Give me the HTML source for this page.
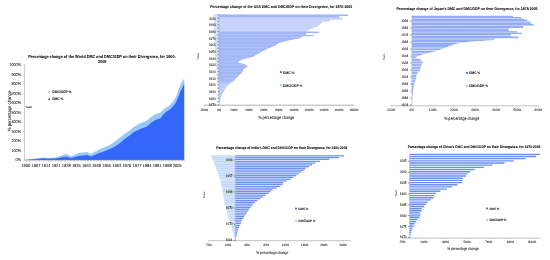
<!DOCTYPE html>
<html lang="en">
<head>
<meta charset="utf-8">
<title>Percentage change of DMC and DMC/GDP</title>
<style>
html,body{margin:0;padding:0;background:#fff;}
body{width:550px;height:260px;overflow:hidden;}
svg{display:block;font-family:'Liberation Sans', sans-serif;}
.shapes{filter:blur(0.35px);}
.labels{}
text{font-family:'Liberation Sans', sans-serif;}
</style>
</head>
<body>
<svg width="550" height="260" viewBox="0 0 550 260" text-rendering="geometricPrecision">
<rect x="0" y="0" width="550" height="260" fill="#ffffff"/>
<g class="shapes">
<g id="world">
<path d="M25.1,159.9 L25.1,159.9 L27.0,159.5 L31.0,159.0 L35.4,158.5 L39.5,158.0 L43.1,157.4 L45.5,157.8 L47.7,158.0 L51.5,157.7 L55.4,157.5 L58.5,156.6 L61.0,155.7 L63.5,154.8 L66.2,154.0 L68.5,154.9 L71.5,156.2 L74.0,155.0 L77.7,153.3 L80.0,152.8 L83.5,152.4 L86.9,152.0 L89.0,152.9 L90.8,153.9 L94.0,152.2 L97.5,150.4 L100.8,148.8 L104.5,147.3 L108.5,145.5 L112.5,143.2 L116.2,140.6 L120.0,137.6 L123.8,134.6 L127.0,132.2 L130.0,130.2 L133.1,127.6 L137.0,125.0 L140.8,122.9 L143.0,122.3 L144.6,121.9 L146.9,120.6 L149.0,118.8 L151.5,116.7 L154.0,114.9 L156.2,113.7 L158.5,113.2 L160.8,112.2 L162.2,110.8 L163.5,109.6 L166.3,107.3 L168.3,106.3 L170.2,104.8 L173.0,101.5 L174.5,99.4 L176.0,96.7 L177.4,93.0 L178.8,89.0 L180.2,85.6 L181.7,82.3 L183.0,80.2 L184.2,78.5 L184.2,159.9 Z" fill="#98c8f8"/>
<path d="M25.1,159.9 L25.1,159.9 L27.0,159.8 L31.0,159.4 L35.4,159.0 L39.5,158.7 L43.1,158.3 L45.5,158.6 L47.7,158.7 L51.5,158.5 L55.4,158.4 L58.5,157.9 L61.0,157.4 L63.5,157.0 L66.2,156.7 L68.5,157.2 L71.5,158.1 L74.0,157.3 L77.7,156.2 L80.0,155.8 L83.5,155.5 L86.9,155.1 L89.0,155.8 L90.8,156.6 L94.0,155.2 L97.5,153.77 L100.8,152.46 L104.5,151.17 L108.5,149.58 L112.5,147.79 L116.2,145.79 L120.0,143.0 L123.8,139.7 L127.0,137.3 L130.0,135.3 L133.1,132.6 L137.0,130.5 L140.8,128.8 L143.0,128.0 L144.6,127.5 L146.9,126.5 L149.0,124.7 L151.5,122.6 L154.0,120.9 L156.2,119.5 L158.5,118.9 L160.8,118.0 L162.2,115.9 L163.5,114.3 L166.3,111.7 L168.3,110.6 L170.2,109.2 L173.0,106.3 L174.5,104.6 L176.0,102.4 L177.4,99.3 L178.8,95.7 L180.2,92.1 L181.7,89.0 L183.0,86.3 L184.2,84.0 L184.2,159.9 Z" fill="#3267fa"/>
<path d="M24.6,64.4 V160.2 M24.3,160.2 H184.4" stroke="#9a9a9a" stroke-width="0.5" fill="none"/>
<path d="M25.1,160.75H184.4" stroke="#8a8a8a" stroke-width="0.8" stroke-dasharray="0.5 0.943" fill="none"/>
<path d="M23.6,159.90 H24.6 M23.6,150.40 H24.6 M23.6,140.90 H24.6 M23.6,131.40 H24.6 M23.6,121.90 H24.6 M23.6,112.40 H24.6 M23.6,102.90 H24.6 M23.6,93.40 H24.6 M23.6,83.90 H24.6 M23.6,74.40 H24.6 M23.6,64.90 H24.6 " stroke="#9a9a9a" stroke-width="0.4"/>
<rect x="48.35" y="91.15" width="1.7" height="1.7" fill="#8cc3f8"/>
<rect x="48.35" y="98.35" width="1.7" height="1.7" fill="#1f4ff5"/>
</g>
<g id="usa">
<path d="M219.0,14.22 L213.3,14.22 L214.2,40.00 L215.5,60.00 L216.5,71.00 L217.5,85.00 L218.5,98.00 L219,104.00 L219.0,104.93 Z" fill="#cfe1fa"/>
<clipPath id="clip-usa"><path d="M219.0,14.22 L348.1,14.22 L348.1,14.2 L348.1,16.0 L339.2,16.1 L339.6,17.5 L341.9,17.6 L341.9,19.5 L329.6,19.6 L329.6,21.5 L322.5,21.6 L321.5,23.4 L319.6,23.5 L319.6,25.0 L318,25.1 L317,27.2 L313.5,27.3 L313,28.7 L309.6,28.8 L309,30.2 L307.3,30.3 L307,31.3 L319.6,31.4 L319.6,33.0 L306.5,33.1 L306.5,34.9 L313,35.0 L315,36.5 L302.7,36.6 L300,38.4 L293,39.8 L286.2,41.2 L278.5,43.5 L275.4,45.8 L267.7,48.8 L261.5,51.9 L256.5,55 L253.5,56.8 L245.8,58.8 L239.6,60.8 L238.1,62.4 L243.5,63.5 L246.5,65 L248.1,66.5 L245.8,68.1 L243.5,69.6 L242.7,71.9 L240.4,74.2 L238.1,76.5 L235.8,78.8 L233.5,81.2 L229.6,83.5 L227.3,85.8 L225.8,88.1 L224.2,90.4 L222.7,92.7 L221.9,94.7 L220.4,98.8 L219.7,101.5 L219.3,103.4 L219.1,105.3 L219.0,104.93 Z"/></clipPath>
<g clip-path="url(#clip-usa)">
<path d="M219.0,14.22 L348.1,14.22 L348.1,14.2 L348.1,16.0 L339.2,16.1 L339.6,17.5 L341.9,17.6 L341.9,19.5 L329.6,19.6 L329.6,21.5 L322.5,21.6 L321.5,23.4 L319.6,23.5 L319.6,25.0 L318,25.1 L317,27.2 L313.5,27.3 L313,28.7 L309.6,28.8 L309,30.2 L307.3,30.3 L307,31.3 L319.6,31.4 L319.6,33.0 L306.5,33.1 L306.5,34.9 L313,35.0 L315,36.5 L302.7,36.6 L300,38.4 L293,39.8 L286.2,41.2 L278.5,43.5 L275.4,45.8 L267.7,48.8 L261.5,51.9 L256.5,55 L253.5,56.8 L245.8,58.8 L239.6,60.8 L238.1,62.4 L243.5,63.5 L246.5,65 L248.1,66.5 L245.8,68.1 L243.5,69.6 L242.7,71.9 L240.4,74.2 L238.1,76.5 L235.8,78.8 L233.5,81.2 L229.6,83.5 L227.3,85.8 L225.8,88.1 L224.2,90.4 L222.7,92.7 L221.9,94.7 L220.4,98.8 L219.7,101.5 L219.3,103.4 L219.1,105.3 L219.0,104.93 Z" fill="#a3b6f6"/>
<rect x="219.0" y="17.6" width="130.1" height="13.90" fill="#c5d1fa"/>
<rect x="219.0" y="82.5" width="130.1" height="23.50" fill="#bccaf9"/>
<path d="M219.0,16.90h130.1v0.5h-130.1zM219.0,20.30h130.1v0.5h-130.1zM219.0,23.70h130.1v0.5h-130.1zM219.0,27.10h130.1v0.5h-130.1zM219.0,30.50h130.1v0.5h-130.1zM219.0,33.90h130.1v0.5h-130.1zM219.0,37.30h130.1v0.5h-130.1zM219.0,40.70h130.1v0.5h-130.1zM219.0,44.10h130.1v0.5h-130.1zM219.0,47.50h130.1v0.5h-130.1zM219.0,50.90h130.1v0.5h-130.1zM219.0,54.30h130.1v0.5h-130.1zM219.0,57.70h130.1v0.5h-130.1zM219.0,61.10h130.1v0.5h-130.1zM219.0,64.50h130.1v0.5h-130.1zM219.0,67.90h130.1v0.5h-130.1zM219.0,71.30h130.1v0.5h-130.1zM219.0,74.70h130.1v0.5h-130.1zM219.0,78.10h130.1v0.5h-130.1zM219.0,81.50h130.1v0.5h-130.1zM219.0,84.90h130.1v0.5h-130.1zM219.0,88.30h130.1v0.5h-130.1zM219.0,91.70h130.1v0.5h-130.1zM219.0,95.10h130.1v0.5h-130.1zM219.0,98.50h130.1v0.5h-130.1zM219.0,101.90h130.1v0.5h-130.1z" fill="#ffffff" fill-opacity="0.28"/>
</g>
<path d="M219.0,14.22 V105.1" stroke="#8f98b8" stroke-width="0.4" fill="none"/>
<path d="M204.0,105.1 H354.2" stroke="#858585" stroke-width="0.5" fill="none"/>
<path d="M217.50,104.93H218.70 M217.50,101.60H218.70 M217.50,98.26H218.70 M217.50,94.93H218.70 M217.50,91.59H218.70 M217.50,88.26H218.70 M217.50,84.92H218.70 M217.50,81.59H218.70 M217.50,78.25H218.70 M217.50,74.92H218.70 M217.50,71.58H218.70 M217.50,68.25H218.70 M217.50,64.91H218.70 M217.50,61.58H218.70 M217.50,58.24H218.70 M217.50,54.91H218.70 M217.50,51.57H218.70 M217.50,48.24H218.70 M217.50,44.90H218.70 M217.50,41.57H218.70 M217.50,38.23H218.70 M217.50,34.90H218.70 M217.50,31.56H218.70 M217.50,28.23H218.70 M217.50,24.89H218.70 M217.50,21.56H218.70 M217.50,18.22H218.70 M217.50,14.89H218.70 " stroke="#333" stroke-width="0.55"/>
<path d="M204.0,105.55H354.2" stroke="#8a8a8a" stroke-width="0.7" stroke-dasharray="0.45 1.05" fill="none"/>
<path d="M204.0,105.1v0.9 M219.0,105.1v0.9 M234.0,105.1v0.9 M249.0,105.1v0.9 M264.0,105.1v0.9 M279.0,105.1v0.9 M294.0,105.1v0.9 M309.0,105.1v0.9 M324.0,105.1v0.9 M339.0,105.1v0.9 M354.0,105.1v0.9 " stroke="#9a9a9a" stroke-width="0.4"/>
<rect x="279.95" y="71.25" width="1.7" height="1.7" fill="#1f4ff5"/>
<rect x="279.95" y="84.35" width="1.7" height="1.7" fill="#8cc3f8"/>
</g>
<g id="japan">
<clipPath id="clip-japan"><path d="M411.8,15.60 L513,15.60 L513,14.9 L513,16.9 L521,17.0 L522,18.2 L524,18.3 L524,19.2 L527,19.3 L527,20.4 L529.5,20.5 L530,22.0 L530.8,22.1 L530.8,23.6 L533.8,23.7 L533.8,25.9 L523,26.0 L523,27.9 L510,28.0 L508.5,29.5 L509.5,30.9 L517,31.0 L517,32.5 L522.3,32.6 L522.3,34.0 L510.8,34.1 L510.8,36.2 L517,36.3 L518.5,37.3 L520,38.4 L495,38.5 L494,40.4 L489,40.5 L470,41.8 L460,43.1 L452.3,45 L449,46.5 L441.5,49.3 L433.1,51.9 L423.1,54.5 L415.4,57.3 L420.8,59.6 L423.1,62.2 L421.5,65 L420.8,67.8 L420,70.4 L417.7,73.2 L416.6,75.8 L416.2,78.5 L415.4,81.2 L414.6,83.5 L413.5,90 L412.7,95 L412.0,104 L411.8,104.95 Z"/></clipPath>
<g clip-path="url(#clip-japan)">
<path d="M411.8,15.60 L513,15.60 L513,14.9 L513,16.9 L521,17.0 L522,18.2 L524,18.3 L524,19.2 L527,19.3 L527,20.4 L529.5,20.5 L530,22.0 L530.8,22.1 L530.8,23.6 L533.8,23.7 L533.8,25.9 L523,26.0 L523,27.9 L510,28.0 L508.5,29.5 L509.5,30.9 L517,31.0 L517,32.5 L522.3,32.6 L522.3,34.0 L510.8,34.1 L510.8,36.2 L517,36.3 L518.5,37.3 L520,38.4 L495,38.5 L494,40.4 L489,40.5 L470,41.8 L460,43.1 L452.3,45 L449,46.5 L441.5,49.3 L433.1,51.9 L423.1,54.5 L415.4,57.3 L420.8,59.6 L423.1,62.2 L421.5,65 L420.8,67.8 L420,70.4 L417.7,73.2 L416.6,75.8 L416.2,78.5 L415.4,81.2 L414.6,83.5 L413.5,90 L412.7,95 L412.0,104 L411.8,104.95 Z" fill="#94abf5"/>
<path d="M411.8,18.20h123.0v0.8h-123.0zM411.8,21.60h123.0v0.8h-123.0zM411.8,25.00h123.0v0.8h-123.0zM411.8,28.40h123.0v0.8h-123.0zM411.8,31.80h123.0v0.8h-123.0zM411.8,35.20h123.0v0.8h-123.0zM411.8,38.60h123.0v0.8h-123.0zM411.8,42.00h123.0v0.8h-123.0zM411.8,47.40h123.0v1.0h-123.0zM411.8,50.06h123.0v1.0h-123.0zM411.8,52.72h123.0v1.0h-123.0zM411.8,55.38h123.0v1.0h-123.0zM411.8,58.04h123.0v1.0h-123.0zM411.8,60.70h123.0v1.0h-123.0zM411.8,63.36h123.0v1.0h-123.0zM411.8,66.02h123.0v1.0h-123.0zM411.8,68.68h123.0v1.0h-123.0zM411.8,71.34h123.0v1.0h-123.0zM411.8,74.00h123.0v1.0h-123.0zM411.8,76.66h123.0v1.0h-123.0zM411.8,79.32h123.0v1.0h-123.0zM411.8,81.98h123.0v1.0h-123.0zM411.8,84.64h123.0v1.0h-123.0zM411.8,87.30h123.0v1.0h-123.0zM411.8,89.96h123.0v1.0h-123.0zM411.8,92.62h123.0v1.0h-123.0zM411.8,95.28h123.0v1.0h-123.0zM411.8,97.94h123.0v1.0h-123.0zM411.8,100.60h123.0v1.0h-123.0zM411.8,103.26h123.0v1.0h-123.0z" fill="#ffffff" fill-opacity="0.62"/>
</g>
<path d="M411.8,15.60 V105.8" stroke="#8f98b8" stroke-width="0.4" fill="none"/>
<path d="M390.7,105.8 H538.6" stroke="#858585" stroke-width="0.5" fill="none"/>
<path d="M410.30,104.95H411.60 M410.30,97.97H411.60 M410.30,90.99H411.60 M410.30,84.01H411.60 M410.30,77.03H411.60 M410.30,70.05H411.60 M410.30,63.07H411.60 M410.30,56.09H411.60 M410.30,49.11H411.60 M410.30,42.13H411.60 M410.30,35.15H411.60 M410.30,28.17H411.60 M410.30,21.19H411.60 " stroke="#333" stroke-width="0.55"/>
<path d="M390.7,105.8v0.9 M411.8,105.8v0.9 M432.9,105.8v0.9 M454.0,105.8v0.9 M475.1,105.8v0.9 M496.2,105.8v0.9 M517.3,105.8v0.9 M538.4,105.8v0.9 " stroke="#9a9a9a" stroke-width="0.4"/>
<rect x="466.05" y="71.95" width="1.7" height="1.7" fill="#1f4ff5"/>
<rect x="466.05" y="85.05" width="1.7" height="1.7" fill="#8cc3f8"/>
</g>
<g id="india">
<path d="M235.09,239.04h0.31v1.52h-0.31zM234.75,237.26h0.65v1.52h-0.65zM233.88,235.47h1.52v1.52h-1.52zM233.76,233.69h1.64v1.52h-1.64zM233.04,231.90h2.36v1.52h-2.36zM232.61,230.12h2.79v1.52h-2.79zM232.07,228.33h3.33v1.52h-3.33zM231.64,226.55h3.76v1.52h-3.76zM231.51,224.76h3.89v1.52h-3.89zM230.66,222.98h4.74v1.52h-4.74zM230.19,221.19h5.21v1.52h-5.21zM229.43,219.41h5.97v1.52h-5.97zM229.06,217.62h6.34v1.52h-6.34zM228.33,215.84h7.07v1.52h-7.07zM227.62,214.05h7.78v1.52h-7.78zM227.20,212.27h8.20v1.52h-8.20zM226.75,210.48h8.65v1.52h-8.65zM226.47,208.70h8.93v1.52h-8.93zM226.19,206.91h9.21v1.52h-9.21zM225.84,205.13h9.56v1.52h-9.56zM225.31,203.34h10.09v1.52h-10.09zM224.63,201.56h10.77v1.52h-10.77zM224.43,199.77h10.97v1.52h-10.97zM223.95,197.99h11.45v1.52h-11.45zM223.27,196.20h12.13v1.52h-12.13zM223.34,194.42h12.06v1.52h-12.06zM222.93,192.63h12.47v1.52h-12.47zM222.34,190.85h13.06v1.52h-13.06zM222.23,189.06h13.17v1.52h-13.17zM222.09,187.28h13.31v1.52h-13.31zM221.66,185.49h13.74v1.52h-13.74zM221.37,183.71h14.03v1.52h-14.03zM220.80,181.92h14.60v1.52h-14.60zM220.41,180.14h14.99v1.52h-14.99zM219.78,178.35h15.62v1.52h-15.62zM219.29,176.57h16.11v1.52h-16.11zM218.60,174.78h16.80v1.52h-16.80zM217.82,173.00h17.58v1.52h-17.58zM217.38,171.21h18.02v1.52h-18.02zM216.65,169.43h18.75v1.52h-18.75zM216.14,167.64h19.26v1.52h-19.26zM215.57,165.86h19.83v1.52h-19.83zM214.53,164.07h20.87v1.52h-20.87zM214.14,162.29h21.26v1.52h-21.26zM213.44,160.50h21.96v1.52h-21.96zM212.60,158.72h22.80v1.52h-22.80zM211.85,156.93h23.55v1.52h-23.55zM211.26,155.15h24.14v1.52h-24.14z" fill="#c2daf9"/>
<path d="M235.40,239.18h0.57v1.25h-0.57zM235.40,237.39h0.27v1.25h-0.27zM235.40,235.61h1.14v1.25h-1.14zM235.40,233.82h1.52v1.25h-1.52zM235.40,232.04h1.75v1.25h-1.75zM235.40,230.25h2.43v1.25h-2.43zM235.40,228.47h2.80v1.25h-2.80zM235.40,226.68h3.63v1.25h-3.63zM235.40,224.90h4.26v1.25h-4.26zM235.40,223.11h5.44v1.25h-5.44zM235.40,221.33h5.88v1.25h-5.88zM235.40,219.54h6.82v1.25h-6.82zM235.40,217.76h7.81v1.25h-7.81zM235.40,215.97h8.83v1.25h-8.83zM235.40,214.19h10.12v1.25h-10.12zM235.40,212.40h11.53v1.25h-11.53zM235.40,210.62h12.51v1.25h-12.51zM235.40,208.83h13.84v1.25h-13.84zM235.40,207.05h15.19v1.25h-15.19zM235.40,205.26h16.42v1.25h-16.42zM235.40,203.48h17.77v1.25h-17.77zM235.40,201.69h19.58v1.25h-19.58zM235.40,199.91h22.15v1.25h-22.15zM235.40,198.12h25.14v1.25h-25.14zM235.40,196.34h27.97v1.25h-27.97zM235.40,194.55h30.52v1.25h-30.52zM235.40,192.77h33.30v1.25h-33.30zM235.40,190.98h35.13v1.25h-35.13zM235.40,189.20h37.23v1.25h-37.23zM235.40,187.41h41.20v1.25h-41.20zM235.40,185.63h45.05v1.25h-45.05zM235.40,183.84h46.97v1.25h-46.97zM235.40,182.06h48.20v1.25h-48.20zM235.40,180.27h51.43v1.25h-51.43zM235.40,178.49h55.61v1.25h-55.61zM235.40,176.70h58.01v1.25h-58.01zM235.40,174.92h61.03v1.25h-61.03zM235.40,173.13h63.56v1.25h-63.56zM235.40,171.35h66.18v1.25h-66.18zM235.40,169.56h68.94v1.25h-68.94zM235.40,167.78h70.30v1.25h-70.30zM235.40,165.99h73.63v1.25h-73.63zM235.40,164.21h76.69v1.25h-76.69zM235.40,162.42h79.93v1.25h-79.93zM235.40,160.64h84.70v1.25h-84.70zM235.40,158.85h93.97v1.25h-93.97zM235.40,157.07h103.54v1.25h-103.54zM235.40,155.28h108.60v1.25h-108.60z" fill="#6f90f3"/>
<path d="M235.4,155.01 V240.7" stroke="#8f98b8" stroke-width="0.4" fill="none"/>
<path d="M208.5,240.7 H350.6" stroke="#858585" stroke-width="0.5" fill="none"/>
<path d="M233.90,240.30H235.20 M233.90,224.24H235.20 M233.90,208.17H235.20 M233.90,192.11H235.20 M233.90,176.04H235.20 M233.90,159.98H235.20 " stroke="#333" stroke-width="0.55"/>
<path d="M208.45,240.7v0.9 M227.7,240.7v0.9 M246.95,240.7v0.9 M266.2,240.7v0.9 M285.45,240.7v0.9 M304.7,240.7v0.9 M323.95,240.7v0.9 M343.2,240.7v0.9 " stroke="#9a9a9a" stroke-width="0.4"/>
<rect x="295.15" y="207.65" width="1.7" height="1.7" fill="#1f4ff5"/>
<rect x="295.15" y="219.95" width="1.7" height="1.7" fill="#8cc3f8"/>
</g>
<g id="china">
<path d="M409.42,235.28h0.18v0.87h-0.18zM409.60,230.94h2.02v0.87h-2.02zM409.60,228.77h3.24v0.87h-3.24zM409.60,226.60h5.20v0.87h-5.20zM409.60,224.43h7.13v0.87h-7.13zM409.60,222.26h9.13v0.87h-9.13zM409.60,220.09h10.62v0.87h-10.62zM409.60,217.92h11.94v0.87h-11.94zM409.60,215.75h12.96v0.87h-12.96zM409.60,213.58h12.96v0.87h-12.96zM409.60,211.41h13.83v0.87h-13.83zM409.60,209.24h14.58v0.87h-14.58zM409.60,207.07h15.25v0.87h-15.25zM409.60,204.90h5.10v0.87h-5.10zM409.42,202.73h0.18v0.87h-0.18zM409.60,200.56h0.23v0.87h-0.23zM409.60,198.39h0.16v0.87h-0.16zM409.60,196.22h0.19v0.87h-0.19zM409.35,189.71h0.25v0.87h-0.25zM409.42,185.37h0.18v0.87h-0.18zM409.35,181.03h0.25v0.87h-0.25zM409.60,178.86h0.17v0.87h-0.17zM409.60,176.69h0.21v0.87h-0.21zM409.60,174.52h0.20v0.87h-0.20zM409.60,170.18h0.25v0.87h-0.25zM409.40,163.67h0.20v0.87h-0.20z" fill="#c9defa"/>
<path d="M409.60,236.13h0.79v1.35h-0.79zM409.60,233.96h1.21v1.35h-1.21zM409.60,231.79h1.74v1.35h-1.74zM409.60,229.62h2.15v1.35h-2.15zM409.60,227.45h2.63v1.35h-2.63zM409.60,225.28h3.87v1.35h-3.87zM409.60,223.11h4.88v1.35h-4.88zM409.60,220.94h6.32v1.35h-6.32zM409.60,218.77h7.86v1.35h-7.86zM409.60,216.60h9.96v1.35h-9.96zM409.60,214.43h10.80v1.35h-10.80zM409.60,212.26h10.21v1.35h-10.21zM409.60,210.09h11.89v1.35h-11.89zM409.60,207.92h12.21v1.35h-12.21zM409.60,205.75h14.39v1.35h-14.39zM409.60,203.58h16.25v1.35h-16.25zM409.60,201.41h18.18v1.35h-18.18zM409.60,199.24h21.39v1.35h-21.39zM409.60,197.07h23.92v1.35h-23.92zM409.60,194.90h24.86v1.35h-24.86zM409.60,192.73h26.43v1.35h-26.43zM409.60,190.56h30.75v1.35h-30.75zM409.60,188.39h37.24v1.35h-37.24zM409.60,186.22h42.43v1.35h-42.43zM409.60,184.05h47.81v1.35h-47.81zM409.60,181.88h52.57v1.35h-52.57zM409.60,179.71h52.88v1.35h-52.88zM409.60,177.54h53.31v1.35h-53.31zM409.60,175.37h56.41v1.35h-56.41zM409.60,173.20h57.91v1.35h-57.91zM409.60,171.03h60.71v1.35h-60.71zM409.60,168.86h65.07v1.35h-65.07zM409.60,166.69h74.27v1.35h-74.27zM409.60,164.52h82.94v1.35h-82.94zM409.60,162.35h95.02v1.35h-95.02zM409.60,160.18h104.19v1.35h-104.19zM409.60,158.01h115.95v1.35h-115.95zM409.60,155.84h126.37v1.35h-126.37zM409.60,153.67h130.52v1.35h-130.52z" fill="#6a8ef4"/>
<path d="M409.6,153.26 V238.1" stroke="#8f98b8" stroke-width="0.4" fill="none"/>
<path d="M402.3,238.1 H540.3" stroke="#858585" stroke-width="0.5" fill="none"/>
<path d="M408.10,237.30H409.40 M408.10,226.45H409.40 M408.10,215.60H409.40 M408.10,204.75H409.40 M408.10,193.90H409.40 M408.10,183.05H409.40 M408.10,172.20H409.40 M408.10,161.35H409.40 " stroke="#333" stroke-width="0.55"/>
<path d="M402.34,238.1v0.9 M423.94,238.1v0.9 M445.54,238.1v0.9 M467.14,238.1v0.9 M488.74,238.1v0.9 M510.34,238.1v0.9 M531.94,238.1v0.9 " stroke="#9a9a9a" stroke-width="0.4"/>
<rect x="486.25" y="207.55" width="1.7" height="1.7" fill="#1f4ff5"/>
<rect x="486.25" y="219.15" width="1.7" height="1.7" fill="#8cc3f8"/>
</g>
</g>
<g class="labels">
<text x="21.0" y="161.25" font-size="4.2" text-anchor="end" font-weight="normal" fill="#222" stroke="#222" stroke-width="0.07" textLength="5.42" lengthAdjust="spacingAndGlyphs">0%</text>
<text x="21.0" y="151.75" font-size="4.2" text-anchor="end" font-weight="normal" fill="#222" stroke="#222" stroke-width="0.07" textLength="9.59" lengthAdjust="spacingAndGlyphs">100%</text>
<text x="21.0" y="142.25" font-size="4.2" text-anchor="end" font-weight="normal" fill="#222" stroke="#222" stroke-width="0.07" textLength="9.59" lengthAdjust="spacingAndGlyphs">200%</text>
<text x="21.0" y="132.75" font-size="4.2" text-anchor="end" font-weight="normal" fill="#222" stroke="#222" stroke-width="0.07" textLength="9.59" lengthAdjust="spacingAndGlyphs">300%</text>
<text x="21.0" y="123.25" font-size="4.2" text-anchor="end" font-weight="normal" fill="#222" stroke="#222" stroke-width="0.07" textLength="9.59" lengthAdjust="spacingAndGlyphs">400%</text>
<text x="21.0" y="113.75" font-size="4.2" text-anchor="end" font-weight="normal" fill="#222" stroke="#222" stroke-width="0.07" textLength="9.59" lengthAdjust="spacingAndGlyphs">500%</text>
<text x="21.0" y="104.25" font-size="4.2" text-anchor="end" font-weight="normal" fill="#222" stroke="#222" stroke-width="0.07" textLength="9.59" lengthAdjust="spacingAndGlyphs">600%</text>
<text x="21.0" y="94.75" font-size="4.2" text-anchor="end" font-weight="normal" fill="#222" stroke="#222" stroke-width="0.07" textLength="9.59" lengthAdjust="spacingAndGlyphs">700%</text>
<text x="21.0" y="85.25" font-size="4.2" text-anchor="end" font-weight="normal" fill="#222" stroke="#222" stroke-width="0.07" textLength="9.59" lengthAdjust="spacingAndGlyphs">800%</text>
<text x="21.0" y="75.75" font-size="4.2" text-anchor="end" font-weight="normal" fill="#222" stroke="#222" stroke-width="0.07" textLength="9.59" lengthAdjust="spacingAndGlyphs">900%</text>
<text x="21.0" y="66.25" font-size="4.2" text-anchor="end" font-weight="normal" fill="#222" stroke="#222" stroke-width="0.07" textLength="11.68" lengthAdjust="spacingAndGlyphs">1000%</text>
<text x="25.82" y="166.9" font-size="4.48" text-anchor="middle" font-weight="normal" fill="#222" stroke="#222" stroke-width="0.07" textLength="8.9" lengthAdjust="spacingAndGlyphs">1900</text>
<text x="35.92" y="166.9" font-size="4.48" text-anchor="middle" font-weight="normal" fill="#222" stroke="#222" stroke-width="0.07" textLength="8.9" lengthAdjust="spacingAndGlyphs">1907</text>
<text x="46.02" y="166.9" font-size="4.48" text-anchor="middle" font-weight="normal" fill="#222" stroke="#222" stroke-width="0.07" textLength="8.9" lengthAdjust="spacingAndGlyphs">1914</text>
<text x="56.12" y="166.9" font-size="4.48" text-anchor="middle" font-weight="normal" fill="#222" stroke="#222" stroke-width="0.07" textLength="8.9" lengthAdjust="spacingAndGlyphs">1921</text>
<text x="66.23" y="166.9" font-size="4.48" text-anchor="middle" font-weight="normal" fill="#222" stroke="#222" stroke-width="0.07" textLength="8.9" lengthAdjust="spacingAndGlyphs">1928</text>
<text x="76.33" y="166.9" font-size="4.48" text-anchor="middle" font-weight="normal" fill="#222" stroke="#222" stroke-width="0.07" textLength="8.9" lengthAdjust="spacingAndGlyphs">1935</text>
<text x="86.43" y="166.9" font-size="4.48" text-anchor="middle" font-weight="normal" fill="#222" stroke="#222" stroke-width="0.07" textLength="8.9" lengthAdjust="spacingAndGlyphs">1942</text>
<text x="96.53" y="166.9" font-size="4.48" text-anchor="middle" font-weight="normal" fill="#222" stroke="#222" stroke-width="0.07" textLength="8.9" lengthAdjust="spacingAndGlyphs">1949</text>
<text x="106.63" y="166.9" font-size="4.48" text-anchor="middle" font-weight="normal" fill="#222" stroke="#222" stroke-width="0.07" textLength="8.9" lengthAdjust="spacingAndGlyphs">1956</text>
<text x="116.73" y="166.9" font-size="4.48" text-anchor="middle" font-weight="normal" fill="#222" stroke="#222" stroke-width="0.07" textLength="8.9" lengthAdjust="spacingAndGlyphs">1963</text>
<text x="126.83" y="166.9" font-size="4.48" text-anchor="middle" font-weight="normal" fill="#222" stroke="#222" stroke-width="0.07" textLength="8.9" lengthAdjust="spacingAndGlyphs">1970</text>
<text x="136.93" y="166.9" font-size="4.48" text-anchor="middle" font-weight="normal" fill="#222" stroke="#222" stroke-width="0.07" textLength="8.9" lengthAdjust="spacingAndGlyphs">1977</text>
<text x="147.03" y="166.9" font-size="4.48" text-anchor="middle" font-weight="normal" fill="#222" stroke="#222" stroke-width="0.07" textLength="8.9" lengthAdjust="spacingAndGlyphs">1984</text>
<text x="157.13" y="166.9" font-size="4.48" text-anchor="middle" font-weight="normal" fill="#222" stroke="#222" stroke-width="0.07" textLength="8.9" lengthAdjust="spacingAndGlyphs">1991</text>
<text x="167.24" y="166.9" font-size="4.48" text-anchor="middle" font-weight="normal" fill="#222" stroke="#222" stroke-width="0.07" textLength="8.9" lengthAdjust="spacingAndGlyphs">1998</text>
<text x="177.34" y="166.9" font-size="4.48" text-anchor="middle" font-weight="normal" fill="#222" stroke="#222" stroke-width="0.07" textLength="8.9" lengthAdjust="spacingAndGlyphs">2005</text>
<text x="102.0" y="58.2" font-size="4.21" text-anchor="middle" font-weight="bold" fill="#000" stroke="#000" stroke-width="0.04" textLength="147.5" lengthAdjust="spacingAndGlyphs">Percentage change of the World DMC and DMC/GDP on their Divergence, for 1900-</text>
<text x="102.2" y="63.1" font-size="4.21" text-anchor="middle" font-weight="bold" fill="#000" stroke="#000" stroke-width="0.04" textLength="8.36" lengthAdjust="spacingAndGlyphs">2009</text>
<text x="11.4" y="111.0" font-size="4.65" text-anchor="middle" font-weight="normal" fill="#111" stroke="#111" stroke-width="0.07" transform="rotate(-90 11.4 111.0)" textLength="40.38" lengthAdjust="spacingAndGlyphs">% percentage change</text>
<text x="25.5" y="108.3" font-size="2.8" text-anchor="start" font-weight="normal" fill="#111" stroke="#111" stroke-width="0.07" textLength="6.3" lengthAdjust="spacingAndGlyphs">Years</text>
<text x="52.3" y="93.2" font-size="3.66" text-anchor="start" font-weight="bold" fill="#111" stroke="#111" stroke-width="0.06" textLength="19.2" lengthAdjust="spacingAndGlyphs">DMC/GDP %</text>
<text x="52.3" y="100.4" font-size="3.58" text-anchor="start" font-weight="bold" fill="#111" stroke="#111" stroke-width="0.06" textLength="11.02" lengthAdjust="spacingAndGlyphs">DMC %</text>
<text x="215.8" y="106.32" font-size="3.47" text-anchor="end" font-weight="normal" fill="#222" stroke="#222" stroke-width="0.07" textLength="6.9" lengthAdjust="spacingAndGlyphs">1870</text>
<text x="215.8" y="99.65" font-size="3.47" text-anchor="end" font-weight="normal" fill="#222" stroke="#222" stroke-width="0.07" textLength="6.9" lengthAdjust="spacingAndGlyphs">1880</text>
<text x="215.8" y="92.98" font-size="3.47" text-anchor="end" font-weight="normal" fill="#222" stroke="#222" stroke-width="0.07" textLength="6.9" lengthAdjust="spacingAndGlyphs">1890</text>
<text x="215.8" y="86.31" font-size="3.47" text-anchor="end" font-weight="normal" fill="#222" stroke="#222" stroke-width="0.07" textLength="6.9" lengthAdjust="spacingAndGlyphs">1900</text>
<text x="215.8" y="79.64" font-size="3.47" text-anchor="end" font-weight="normal" fill="#222" stroke="#222" stroke-width="0.07" textLength="6.9" lengthAdjust="spacingAndGlyphs">1910</text>
<text x="215.8" y="72.97" font-size="3.47" text-anchor="end" font-weight="normal" fill="#222" stroke="#222" stroke-width="0.07" textLength="6.9" lengthAdjust="spacingAndGlyphs">1920</text>
<text x="215.8" y="66.3" font-size="3.47" text-anchor="end" font-weight="normal" fill="#222" stroke="#222" stroke-width="0.07" textLength="6.9" lengthAdjust="spacingAndGlyphs">1930</text>
<text x="215.8" y="59.63" font-size="3.47" text-anchor="end" font-weight="normal" fill="#222" stroke="#222" stroke-width="0.07" textLength="6.9" lengthAdjust="spacingAndGlyphs">1940</text>
<text x="215.8" y="52.96" font-size="3.47" text-anchor="end" font-weight="normal" fill="#222" stroke="#222" stroke-width="0.07" textLength="6.9" lengthAdjust="spacingAndGlyphs">1950</text>
<text x="215.8" y="46.29" font-size="3.47" text-anchor="end" font-weight="normal" fill="#222" stroke="#222" stroke-width="0.07" textLength="6.9" lengthAdjust="spacingAndGlyphs">1960</text>
<text x="215.8" y="39.62" font-size="3.47" text-anchor="end" font-weight="normal" fill="#222" stroke="#222" stroke-width="0.07" textLength="6.9" lengthAdjust="spacingAndGlyphs">1970</text>
<text x="215.8" y="32.95" font-size="3.47" text-anchor="end" font-weight="normal" fill="#222" stroke="#222" stroke-width="0.07" textLength="6.9" lengthAdjust="spacingAndGlyphs">1980</text>
<text x="215.8" y="26.28" font-size="3.47" text-anchor="end" font-weight="normal" fill="#222" stroke="#222" stroke-width="0.07" textLength="6.9" lengthAdjust="spacingAndGlyphs">1990</text>
<text x="215.8" y="19.61" font-size="3.47" text-anchor="end" font-weight="normal" fill="#222" stroke="#222" stroke-width="0.07" textLength="6.9" lengthAdjust="spacingAndGlyphs">2000</text>
<text x="204.0" y="111.3" font-size="3.25" text-anchor="middle" font-weight="normal" fill="#222" stroke="#222" stroke-width="0.07" textLength="8.38" lengthAdjust="spacingAndGlyphs">-200%</text>
<text x="219.0" y="111.3" font-size="3.25" text-anchor="middle" font-weight="normal" fill="#222" stroke="#222" stroke-width="0.07" textLength="4.19" lengthAdjust="spacingAndGlyphs">0%</text>
<text x="234.0" y="111.3" font-size="3.25" text-anchor="middle" font-weight="normal" fill="#222" stroke="#222" stroke-width="0.07" textLength="7.42" lengthAdjust="spacingAndGlyphs">200%</text>
<text x="249.0" y="111.3" font-size="3.25" text-anchor="middle" font-weight="normal" fill="#222" stroke="#222" stroke-width="0.07" textLength="7.42" lengthAdjust="spacingAndGlyphs">400%</text>
<text x="264.0" y="111.3" font-size="3.25" text-anchor="middle" font-weight="normal" fill="#222" stroke="#222" stroke-width="0.07" textLength="7.42" lengthAdjust="spacingAndGlyphs">600%</text>
<text x="279.0" y="111.3" font-size="3.25" text-anchor="middle" font-weight="normal" fill="#222" stroke="#222" stroke-width="0.07" textLength="7.42" lengthAdjust="spacingAndGlyphs">800%</text>
<text x="294.0" y="111.3" font-size="3.25" text-anchor="middle" font-weight="normal" fill="#222" stroke="#222" stroke-width="0.07" textLength="9.03" lengthAdjust="spacingAndGlyphs">1000%</text>
<text x="309.0" y="111.3" font-size="3.25" text-anchor="middle" font-weight="normal" fill="#222" stroke="#222" stroke-width="0.07" textLength="9.03" lengthAdjust="spacingAndGlyphs">1200%</text>
<text x="324.0" y="111.3" font-size="3.25" text-anchor="middle" font-weight="normal" fill="#222" stroke="#222" stroke-width="0.07" textLength="9.03" lengthAdjust="spacingAndGlyphs">1400%</text>
<text x="339.0" y="111.3" font-size="3.25" text-anchor="middle" font-weight="normal" fill="#222" stroke="#222" stroke-width="0.07" textLength="9.03" lengthAdjust="spacingAndGlyphs">1600%</text>
<text x="354.0" y="111.3" font-size="3.25" text-anchor="middle" font-weight="normal" fill="#222" stroke="#222" stroke-width="0.07" textLength="9.03" lengthAdjust="spacingAndGlyphs">1800%</text>
<text x="281.2" y="8.0" font-size="3.91" text-anchor="middle" font-weight="bold" fill="#000" stroke="#000" stroke-width="0.06" textLength="142" lengthAdjust="spacingAndGlyphs">Percentage change of the USA DMC and DMC/GDP on their Divergence, for 1870-2005</text>
<text x="276.2" y="119.0" font-size="4.62" text-anchor="middle" font-weight="normal" fill="#222" stroke="#222" stroke-width="0.07" textLength="36.0" lengthAdjust="spacingAndGlyphs">% percentage change</text>
<text x="199.3" y="56.4" font-size="2.8" text-anchor="middle" font-weight="normal" fill="#333" stroke="#333" stroke-width="0.03" transform="rotate(-90 199.3 56.4)" textLength="6.3" lengthAdjust="spacingAndGlyphs">Years</text>
<text x="283.1" y="73.54" font-size="3.7" text-anchor="start" font-weight="bold" fill="#111" stroke="#111" stroke-width="0.05" textLength="11.37" lengthAdjust="spacingAndGlyphs">DMC %</text>
<text x="283.1" y="86.64" font-size="3.7" text-anchor="start" font-weight="bold" fill="#111" stroke="#111" stroke-width="0.05" textLength="19.37" lengthAdjust="spacingAndGlyphs">DMC/GDP %</text>
<text x="408.1" y="105.68" font-size="3.36" text-anchor="end" font-weight="normal" fill="#222" stroke="#222" stroke-width="0.07" textLength="6.67" lengthAdjust="spacingAndGlyphs">1878</text>
<text x="408.1" y="98.7" font-size="3.36" text-anchor="end" font-weight="normal" fill="#222" stroke="#222" stroke-width="0.07" textLength="6.67" lengthAdjust="spacingAndGlyphs">1888</text>
<text x="408.1" y="91.72" font-size="3.36" text-anchor="end" font-weight="normal" fill="#222" stroke="#222" stroke-width="0.07" textLength="6.67" lengthAdjust="spacingAndGlyphs">1898</text>
<text x="408.1" y="84.74" font-size="3.36" text-anchor="end" font-weight="normal" fill="#222" stroke="#222" stroke-width="0.07" textLength="6.67" lengthAdjust="spacingAndGlyphs">1908</text>
<text x="408.1" y="77.76" font-size="3.36" text-anchor="end" font-weight="normal" fill="#222" stroke="#222" stroke-width="0.07" textLength="6.67" lengthAdjust="spacingAndGlyphs">1918</text>
<text x="408.1" y="70.78" font-size="3.36" text-anchor="end" font-weight="normal" fill="#222" stroke="#222" stroke-width="0.07" textLength="6.67" lengthAdjust="spacingAndGlyphs">1928</text>
<text x="408.1" y="63.8" font-size="3.36" text-anchor="end" font-weight="normal" fill="#222" stroke="#222" stroke-width="0.07" textLength="6.67" lengthAdjust="spacingAndGlyphs">1938</text>
<text x="408.1" y="56.82" font-size="3.36" text-anchor="end" font-weight="normal" fill="#222" stroke="#222" stroke-width="0.07" textLength="6.67" lengthAdjust="spacingAndGlyphs">1948</text>
<text x="408.1" y="49.84" font-size="3.36" text-anchor="end" font-weight="normal" fill="#222" stroke="#222" stroke-width="0.07" textLength="6.67" lengthAdjust="spacingAndGlyphs">1958</text>
<text x="408.1" y="42.86" font-size="3.36" text-anchor="end" font-weight="normal" fill="#222" stroke="#222" stroke-width="0.07" textLength="6.67" lengthAdjust="spacingAndGlyphs">1968</text>
<text x="408.1" y="35.88" font-size="3.36" text-anchor="end" font-weight="normal" fill="#222" stroke="#222" stroke-width="0.07" textLength="6.67" lengthAdjust="spacingAndGlyphs">1978</text>
<text x="408.1" y="28.9" font-size="3.36" text-anchor="end" font-weight="normal" fill="#222" stroke="#222" stroke-width="0.07" textLength="6.67" lengthAdjust="spacingAndGlyphs">1988</text>
<text x="408.1" y="21.92" font-size="3.36" text-anchor="end" font-weight="normal" fill="#222" stroke="#222" stroke-width="0.07" textLength="6.67" lengthAdjust="spacingAndGlyphs">1998</text>
<text x="390.7" y="111.0" font-size="3.42" text-anchor="middle" font-weight="normal" fill="#222" stroke="#222" stroke-width="0.07" textLength="8.82" lengthAdjust="spacingAndGlyphs">-100%</text>
<text x="411.8" y="111.0" font-size="3.42" text-anchor="middle" font-weight="normal" fill="#222" stroke="#222" stroke-width="0.07" textLength="4.41" lengthAdjust="spacingAndGlyphs">0%</text>
<text x="432.9" y="111.0" font-size="3.42" text-anchor="middle" font-weight="normal" fill="#222" stroke="#222" stroke-width="0.07" textLength="7.8" lengthAdjust="spacingAndGlyphs">100%</text>
<text x="454.0" y="111.0" font-size="3.42" text-anchor="middle" font-weight="normal" fill="#222" stroke="#222" stroke-width="0.07" textLength="7.8" lengthAdjust="spacingAndGlyphs">200%</text>
<text x="475.1" y="111.0" font-size="3.42" text-anchor="middle" font-weight="normal" fill="#222" stroke="#222" stroke-width="0.07" textLength="7.8" lengthAdjust="spacingAndGlyphs">300%</text>
<text x="496.2" y="111.0" font-size="3.42" text-anchor="middle" font-weight="normal" fill="#222" stroke="#222" stroke-width="0.07" textLength="7.8" lengthAdjust="spacingAndGlyphs">400%</text>
<text x="517.3" y="111.0" font-size="3.42" text-anchor="middle" font-weight="normal" fill="#222" stroke="#222" stroke-width="0.07" textLength="7.8" lengthAdjust="spacingAndGlyphs">500%</text>
<text x="538.4" y="111.0" font-size="3.42" text-anchor="middle" font-weight="normal" fill="#222" stroke="#222" stroke-width="0.07" textLength="7.8" lengthAdjust="spacingAndGlyphs">600%</text>
<text x="467.0" y="9.6" font-size="3.9" text-anchor="middle" font-weight="bold" fill="#000" stroke="#000" stroke-width="0.06" textLength="141" lengthAdjust="spacingAndGlyphs">Percentage change of Japan's DMC and DMC/GDP on their Divergence, for 1878-2005</text>
<text x="461.7" y="119.7" font-size="4.5" text-anchor="middle" font-weight="normal" fill="#222" stroke="#222" stroke-width="0.07" textLength="35.03" lengthAdjust="spacingAndGlyphs">% percentage change</text>
<text x="384.9" y="57.0" font-size="2.8" text-anchor="middle" font-weight="normal" fill="#333" stroke="#333" stroke-width="0.03" transform="rotate(-90 384.9 57.0)" textLength="6.3" lengthAdjust="spacingAndGlyphs">Years</text>
<text x="469.2" y="74.2" font-size="3.58" text-anchor="start" font-weight="bold" fill="#111" stroke="#111" stroke-width="0.05" textLength="11.02" lengthAdjust="spacingAndGlyphs">DMC %</text>
<text x="469.2" y="87.3" font-size="3.58" text-anchor="start" font-weight="bold" fill="#111" stroke="#111" stroke-width="0.05" textLength="18.79" lengthAdjust="spacingAndGlyphs">DMC/GDP %</text>
<text x="232.6" y="241.32" font-size="3.47" text-anchor="end" font-weight="normal" fill="#222" stroke="#222" stroke-width="0.07" textLength="6.9" lengthAdjust="spacingAndGlyphs">1961</text>
<text x="232.6" y="225.25" font-size="3.47" text-anchor="end" font-weight="normal" fill="#222" stroke="#222" stroke-width="0.07" textLength="6.9" lengthAdjust="spacingAndGlyphs">1970</text>
<text x="232.6" y="209.19" font-size="3.47" text-anchor="end" font-weight="normal" fill="#222" stroke="#222" stroke-width="0.07" textLength="6.9" lengthAdjust="spacingAndGlyphs">1979</text>
<text x="232.6" y="193.12" font-size="3.47" text-anchor="end" font-weight="normal" fill="#222" stroke="#222" stroke-width="0.07" textLength="6.9" lengthAdjust="spacingAndGlyphs">1988</text>
<text x="232.6" y="177.06" font-size="3.47" text-anchor="end" font-weight="normal" fill="#222" stroke="#222" stroke-width="0.07" textLength="6.9" lengthAdjust="spacingAndGlyphs">1997</text>
<text x="232.6" y="160.99" font-size="3.47" text-anchor="end" font-weight="normal" fill="#222" stroke="#222" stroke-width="0.07" textLength="6.9" lengthAdjust="spacingAndGlyphs">2006</text>
<text x="208.45" y="245.8" font-size="3.14" text-anchor="middle" font-weight="normal" fill="#222" stroke="#222" stroke-width="0.07" textLength="6.54" lengthAdjust="spacingAndGlyphs">-70%</text>
<text x="227.7" y="245.8" font-size="3.14" text-anchor="middle" font-weight="normal" fill="#222" stroke="#222" stroke-width="0.07" textLength="6.54" lengthAdjust="spacingAndGlyphs">-20%</text>
<text x="246.95" y="245.8" font-size="3.14" text-anchor="middle" font-weight="normal" fill="#222" stroke="#222" stroke-width="0.07" textLength="5.6" lengthAdjust="spacingAndGlyphs">30%</text>
<text x="266.2" y="245.8" font-size="3.14" text-anchor="middle" font-weight="normal" fill="#222" stroke="#222" stroke-width="0.07" textLength="5.6" lengthAdjust="spacingAndGlyphs">80%</text>
<text x="285.45" y="245.8" font-size="3.14" text-anchor="middle" font-weight="normal" fill="#222" stroke="#222" stroke-width="0.07" textLength="7.16" lengthAdjust="spacingAndGlyphs">130%</text>
<text x="304.7" y="245.8" font-size="3.14" text-anchor="middle" font-weight="normal" fill="#222" stroke="#222" stroke-width="0.07" textLength="7.16" lengthAdjust="spacingAndGlyphs">180%</text>
<text x="323.95" y="245.8" font-size="3.14" text-anchor="middle" font-weight="normal" fill="#222" stroke="#222" stroke-width="0.07" textLength="7.16" lengthAdjust="spacingAndGlyphs">230%</text>
<text x="343.2" y="245.8" font-size="3.14" text-anchor="middle" font-weight="normal" fill="#222" stroke="#222" stroke-width="0.07" textLength="7.16" lengthAdjust="spacingAndGlyphs">280%</text>
<text x="281.8" y="149.3" font-size="3.67" text-anchor="middle" font-weight="bold" fill="#000" stroke="#000" stroke-width="0.06" textLength="131" lengthAdjust="spacingAndGlyphs">Percentage change of India's DMC and DMC/GDP on their Divergence, for 1961-2008</text>
<text x="272.2" y="253.7" font-size="4.12" text-anchor="middle" font-weight="normal" fill="#222" stroke="#222" stroke-width="0.07" textLength="32.11" lengthAdjust="spacingAndGlyphs">% percentage change</text>
<text x="204.7" y="195.0" font-size="2.8" text-anchor="middle" font-weight="normal" fill="#333" stroke="#333" stroke-width="0.03" transform="rotate(-90 204.7 195.0)" textLength="6.3" lengthAdjust="spacingAndGlyphs">Years</text>
<text x="298.3" y="209.81" font-size="3.3" text-anchor="start" font-weight="bold" fill="#111" stroke="#111" stroke-width="0.05" textLength="10.16" lengthAdjust="spacingAndGlyphs">DMC %</text>
<text x="298.3" y="222.11" font-size="3.3" text-anchor="start" font-weight="bold" fill="#111" stroke="#111" stroke-width="0.05" textLength="17.32" lengthAdjust="spacingAndGlyphs">DMC/GDP %</text>
<text x="406.6" y="238.42" font-size="3.47" text-anchor="end" font-weight="normal" fill="#222" stroke="#222" stroke-width="0.07" textLength="6.9" lengthAdjust="spacingAndGlyphs">1970</text>
<text x="406.6" y="227.57" font-size="3.47" text-anchor="end" font-weight="normal" fill="#222" stroke="#222" stroke-width="0.07" textLength="6.9" lengthAdjust="spacingAndGlyphs">1975</text>
<text x="406.6" y="216.72" font-size="3.47" text-anchor="end" font-weight="normal" fill="#222" stroke="#222" stroke-width="0.07" textLength="6.9" lengthAdjust="spacingAndGlyphs">1980</text>
<text x="406.6" y="205.87" font-size="3.47" text-anchor="end" font-weight="normal" fill="#222" stroke="#222" stroke-width="0.07" textLength="6.9" lengthAdjust="spacingAndGlyphs">1985</text>
<text x="406.6" y="195.02" font-size="3.47" text-anchor="end" font-weight="normal" fill="#222" stroke="#222" stroke-width="0.07" textLength="6.9" lengthAdjust="spacingAndGlyphs">1990</text>
<text x="406.6" y="184.17" font-size="3.47" text-anchor="end" font-weight="normal" fill="#222" stroke="#222" stroke-width="0.07" textLength="6.9" lengthAdjust="spacingAndGlyphs">1995</text>
<text x="406.6" y="173.32" font-size="3.47" text-anchor="end" font-weight="normal" fill="#222" stroke="#222" stroke-width="0.07" textLength="6.9" lengthAdjust="spacingAndGlyphs">2000</text>
<text x="406.6" y="162.47" font-size="3.47" text-anchor="end" font-weight="normal" fill="#222" stroke="#222" stroke-width="0.07" textLength="6.9" lengthAdjust="spacingAndGlyphs">2005</text>
<text x="402.34" y="242.9" font-size="3.14" text-anchor="middle" font-weight="normal" fill="#222" stroke="#222" stroke-width="0.07" textLength="6.54" lengthAdjust="spacingAndGlyphs">-70%</text>
<text x="423.94" y="242.9" font-size="3.14" text-anchor="middle" font-weight="normal" fill="#222" stroke="#222" stroke-width="0.07" textLength="7.16" lengthAdjust="spacingAndGlyphs">130%</text>
<text x="445.54" y="242.9" font-size="3.14" text-anchor="middle" font-weight="normal" fill="#222" stroke="#222" stroke-width="0.07" textLength="7.16" lengthAdjust="spacingAndGlyphs">330%</text>
<text x="467.14" y="242.9" font-size="3.14" text-anchor="middle" font-weight="normal" fill="#222" stroke="#222" stroke-width="0.07" textLength="7.16" lengthAdjust="spacingAndGlyphs">530%</text>
<text x="488.74" y="242.9" font-size="3.14" text-anchor="middle" font-weight="normal" fill="#222" stroke="#222" stroke-width="0.07" textLength="7.16" lengthAdjust="spacingAndGlyphs">730%</text>
<text x="510.34" y="242.9" font-size="3.14" text-anchor="middle" font-weight="normal" fill="#222" stroke="#222" stroke-width="0.07" textLength="7.16" lengthAdjust="spacingAndGlyphs">930%</text>
<text x="531.94" y="242.9" font-size="3.14" text-anchor="middle" font-weight="normal" fill="#222" stroke="#222" stroke-width="0.07" textLength="8.51" lengthAdjust="spacingAndGlyphs">1130%</text>
<text x="474.0" y="148.0" font-size="3.67" text-anchor="middle" font-weight="bold" fill="#000" stroke="#000" stroke-width="0.06" textLength="132.6" lengthAdjust="spacingAndGlyphs">Percentage change of China's DMC and DMC/GDP on their Divergence, for 1970-2008</text>
<text x="463.0" y="250.2" font-size="4.06" text-anchor="middle" font-weight="normal" fill="#222" stroke="#222" stroke-width="0.07" textLength="31.62" lengthAdjust="spacingAndGlyphs">% percentage change</text>
<text x="397.0" y="193.1" font-size="2.8" text-anchor="middle" font-weight="normal" fill="#333" stroke="#333" stroke-width="0.03" transform="rotate(-90 397.0 193.1)" textLength="6.3" lengthAdjust="spacingAndGlyphs">Years</text>
<text x="489.40000000000003" y="209.69" font-size="3.25" text-anchor="start" font-weight="bold" fill="#111" stroke="#111" stroke-width="0.05" textLength="9.99" lengthAdjust="spacingAndGlyphs">DMC %</text>
<text x="489.40000000000003" y="221.29" font-size="3.25" text-anchor="start" font-weight="bold" fill="#111" stroke="#111" stroke-width="0.05" textLength="17.03" lengthAdjust="spacingAndGlyphs">DMC/GDP %</text>
</g>
</svg>
</body>
</html>
